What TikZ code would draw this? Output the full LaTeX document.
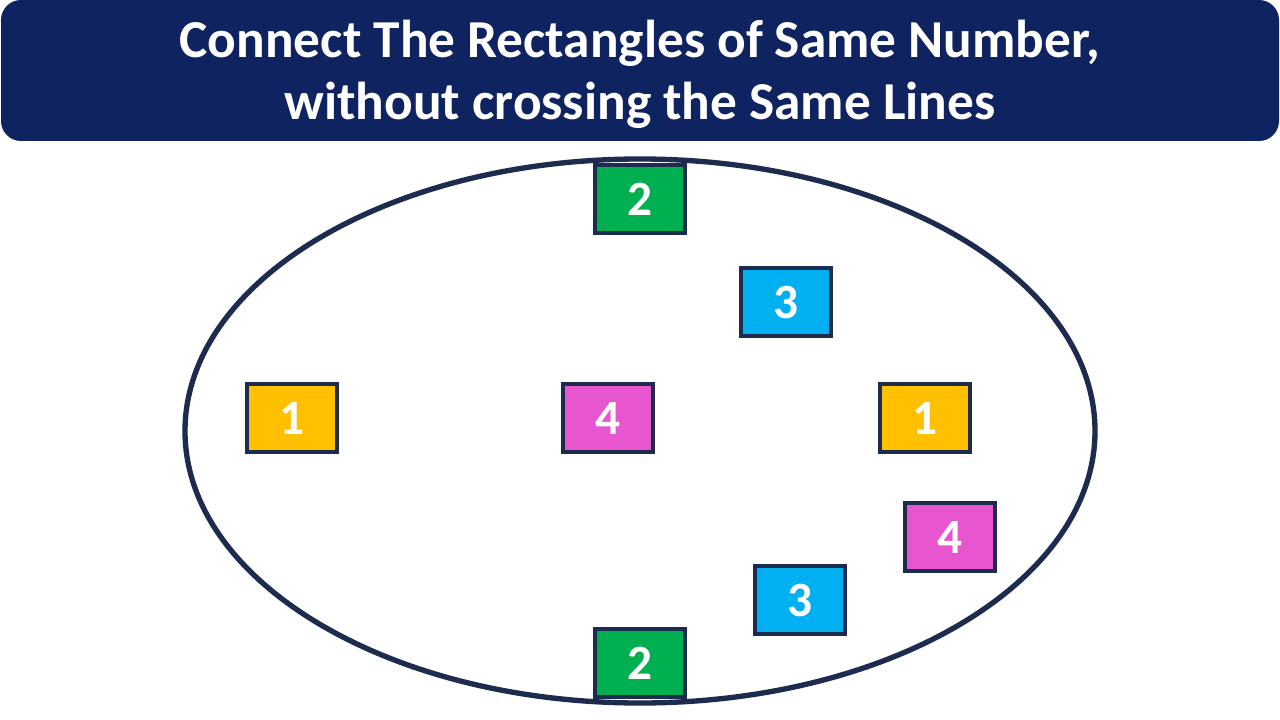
\documentclass[tikz,border=0pt]{standalone}
\usepackage{fontspec}
\setmainfont{Carlito}
\definecolor{banner}{HTML}{0F2360}
\definecolor{navy}{HTML}{1C2B4E}
\definecolor{gold}{HTML}{FFC000}
\definecolor{grn}{HTML}{00B050}
\definecolor{cyn}{HTML}{00B0F0}
\definecolor{mag}{HTML}{E856CF}
\tikzset{
  numbox/.style={draw=navy, line width=2.5pt, minimum width=67.5pt, minimum height=51pt,
    inner sep=0pt, text=white, font=\fontsize{37}{40}\selectfont\bfseries},
}
\begin{document}
\begin{tikzpicture}[x=0.75pt,y=-0.75pt]
\useasboundingbox (0,0) rectangle (1280,720);
\fill[white] (0,0) rectangle (1280,720);
\fill[banner, rounded corners=15pt] (1,0) rectangle (1279,141);
\node[text=white, align=center, font=\fontsize{40}{46.5}\selectfont\bfseries] (title) at (640,74)
  {Connect The Rectangles of Same Number,\\without crossing the Same Lines};
\draw[navy, line width=4pt] (640,431) ellipse [x radius=455, y radius=272];
\node[numbox, fill=grn]  (twoA)   at (640,199) {2};
\node[numbox, fill=cyn]  (threeA) at (786,302) {3};
\node[numbox, fill=gold] (oneA)   at (292,418) {1};
\node[numbox, fill=mag]  (fourA)  at (608,418) {4};
\node[numbox, fill=gold] (oneB)   at (925,418) {1};
\node[numbox, fill=mag]  (fourB)  at (950,537) {4};
\node[numbox, fill=cyn]  (threeB) at (800,600) {3};
\node[numbox, fill=grn]  (twoB)   at (640,663) {2};
\end{tikzpicture}
\end{document}
